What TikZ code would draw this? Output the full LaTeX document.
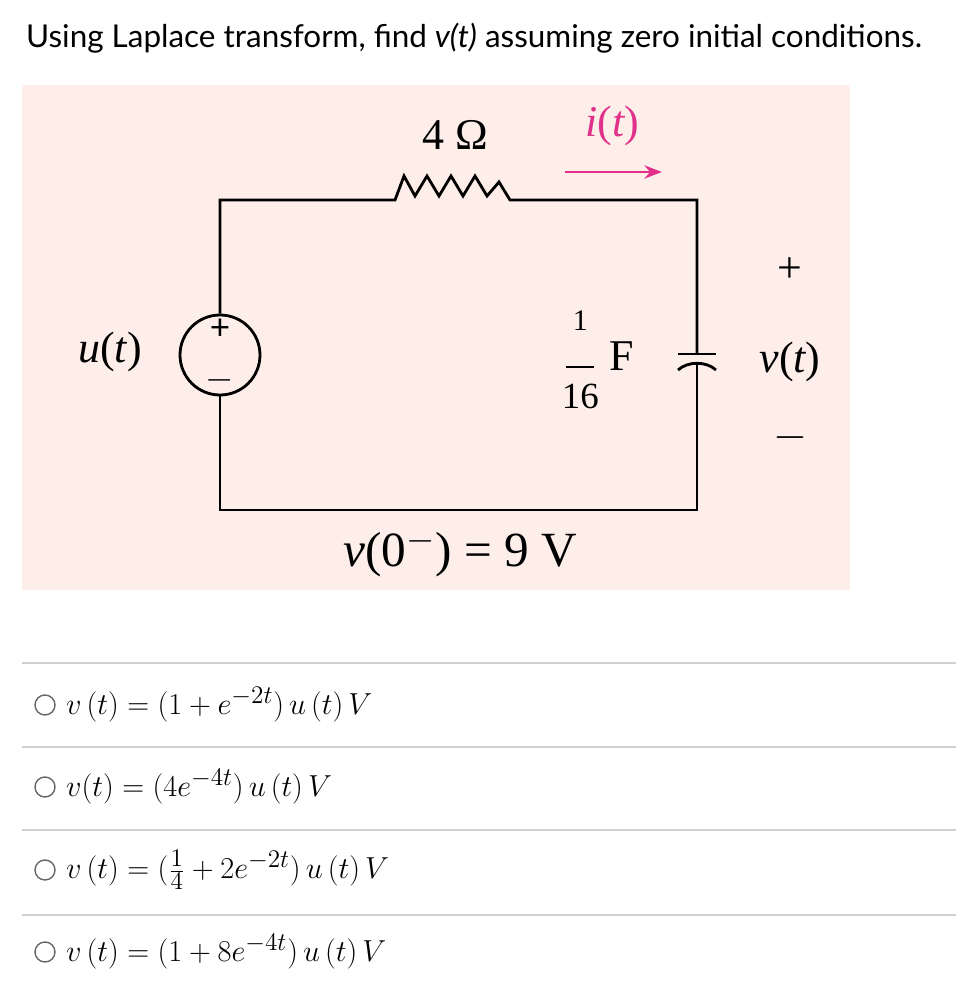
\documentclass[tikz,border=0pt]{standalone}
\usepackage{fontspec}
\usetikzlibrary{arrows.meta}
\setmainfont{Lato}
\newfontfamily\tms{Liberation Serif}
\newcommand{\ti}[1]{{\tms\itshape #1}}
\definecolor{bgpink}{HTML}{FDEEEA}
\definecolor{mag}{HTML}{E0308A}
\definecolor{sep}{HTML}{D0D0D0}
\begin{document}
\begin{tikzpicture}[x=0.02cm,y=-0.02cm,
 lab/.style={font=\tms\fontsize{25}{27}\selectfont},
 opt/.style={anchor=west,font=\fontsize{19}{21}\selectfont},
 wire/.style={line width=1.6pt}]
\useasboundingbox (0,0) rectangle (956,1006);
\node[anchor=west,font=\fontsize{17.9}{21}\selectfont] (title) at (20,38) {Using Laplace transform, find \textit{v(t)} assuming zero initial conditions.};
\fill[bgpink] (22,85) rectangle (850,590);
\coordinate (tl) at (220,200); \coordinate (tr) at (697,200);
\coordinate (bl) at (220,510); \coordinate (br) at (697,510);
\node[draw,circle,line width=1.6pt,minimum size=80*0.02cm,inner sep=0] (src) at (220,355) {};
\draw[wire] (src.north) -- (tl) -- (395,200) -- (404,176) -- (415,196) -- (427,176) -- (439,196) -- (451,176) -- (463,196) -- (475,176) -- (487,196) -- (499,182) -- (510,200) -- (tr) -- (697,354);
\draw[wire] (src.south) -- (bl) -- (br) -- (697,364);
\draw[wire] (678,354) -- (716,354);
\draw[wire] (678,370) .. controls (688,361) and (706,361) .. (716,370);
\node[font=\fontsize{20}{20}\selectfont] at (220,329) {+};
\node[font=\fontsize{20}{20}\selectfont] at (220,380) {$-$};
\node[lab] (R) at (455,135) {4 Ω};
\node[lab,text=mag] (it) at (612,126) {\ti{i}(\ti{t})};
\draw[mag,line width=1.6pt,-{Stealth[length=10pt]}] (565,172) -- (662,172);
\node[lab] at (790,270) {+};
\node[lab] (vt) at (790,362) {\ti{v}(\ti{t})};
\node[lab] at (790,438) {$-$};
\node[lab] (C) at (598,360) {\begin{tabular}{@{}c@{}}\fontsize{17}{17}\selectfont 1\\[-6pt]\rule{16pt}{0.8pt}\\[-4pt]\fontsize{21}{21}\selectfont 16\end{tabular} F};
\node[lab] (ut) at (110,352) {\ti{u}(\ti{t})};
\node[font=\tms\fontsize{28}{30}\selectfont] (v0) at (460,553) {\ti{v}(0$^{-}$) = 9 V};
\foreach \y in {663,747,830,915} \draw[sep,line width=0.8pt] (22,\y) -- (956,\y);
\foreach \y in {705,787,870,952} \draw[gray!80!black,line width=0.8pt] (45,\y) circle (10*0.02cm);
\node[opt] (o1) at (60,705) {$v\,(t)=\bigl(1+e^{-2t}\bigr)\,u\,(t)\,V$};
\node[opt] (o2) at (60,787) {$v(t)=\bigl(4e^{-4t}\bigr)\,u\,(t)\,V$};
\node[opt] (o3) at (60,870) {$v\,(t)=\bigl(\frac{1}{4}+2e^{-2t}\bigr)\,u\,(t)\,V$};
\node[opt] (o4) at (60,952) {$v\,(t)=\bigl(1+8e^{-4t}\bigr)\,u\,(t)\,V$};
\end{tikzpicture}
\end{document}
